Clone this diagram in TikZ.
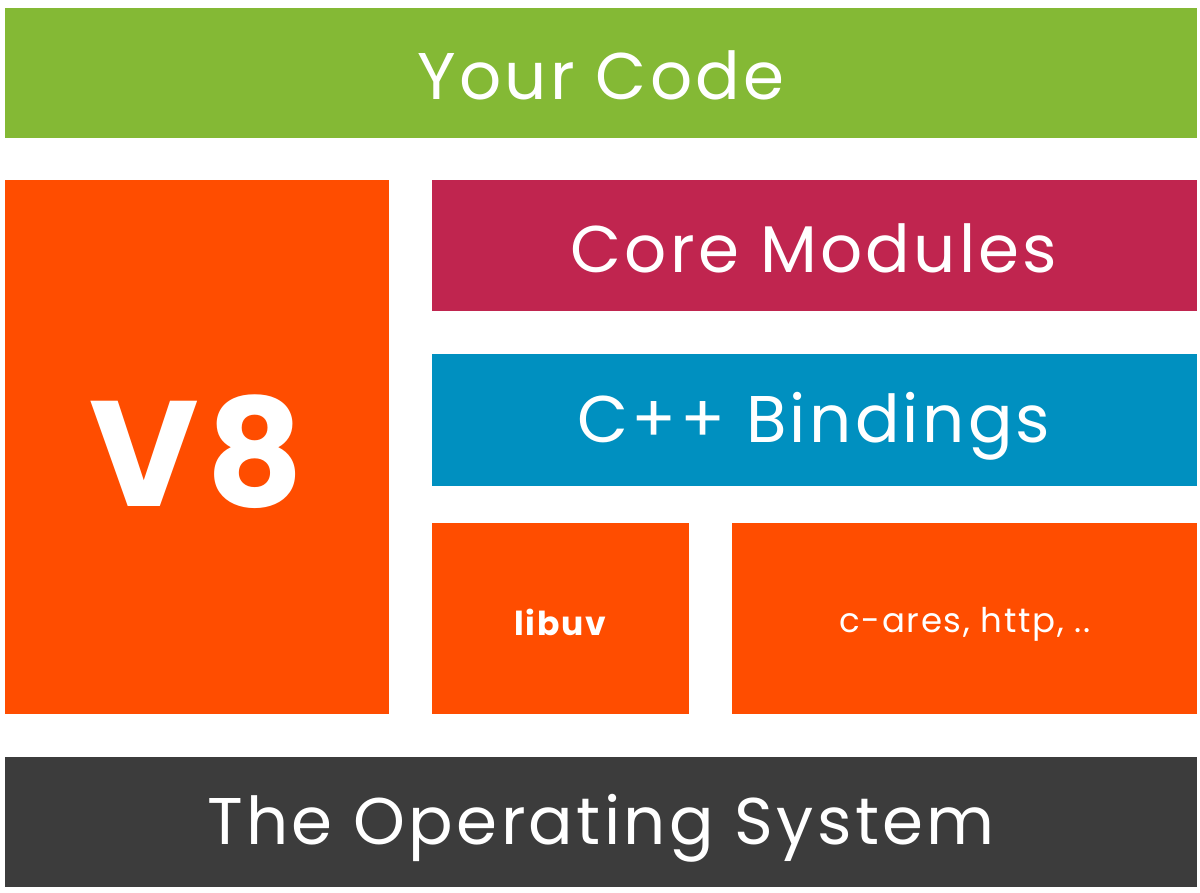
\documentclass[tikz,border=0pt]{standalone}
\usepackage{fontspec}
\setmainfont{Poppins}[LetterSpace=5]
\definecolor{cgreen}{HTML}{84B935}
\definecolor{corange}{HTML}{FF4D00}
\definecolor{cred}{HTML}{C0254F}
\definecolor{cblue}{HTML}{0090C0}
\definecolor{cdark}{HTML}{3C3C3C}
\tikzset{blk/.style={inner sep=0pt,text=white}}
\begin{document}
\begin{tikzpicture}[x=1pt,y=-1pt]
\useasboundingbox (0,0) rectangle (1200,893);
\fill[cgreen] (5,8) rectangle (1197,138);
\fill[corange] (5,180) rectangle (389,714);
\fill[cred] (432,180) rectangle (1197,311);
\fill[cblue] (432,354) rectangle (1197,486);
\fill[corange] (432,523) rectangle (689,714);
\fill[corange] (732,523) rectangle (1197,714);
\fill[cdark] (5,757) rectangle (1197,887);
\node[blk,font=\fontsize{66}{66}\selectfont] (code) at (601,75) {Your Code};
\node[blk,font=\fontsize{150}{150}\selectfont\bfseries] (v8) at (197,452) {V8};
\node[blk,font=\fontsize{66}{66}\selectfont] (core) at (814,248) {Core Modules};
\node[blk,font=\fontsize{66}{66}\selectfont] (cpp) at (814,426) {C++ Bindings};
\node[blk,font=\fontsize{33}{33}\selectfont\bfseries] (uv) at (560,622) {libuv};
\node[blk,font=\fontsize{34}{34}\selectfont] (ca) at (965,624) {c-ares, http, ..};
\node[blk,font=\fontsize{66}{66}\selectfont] (os) at (601,828) {The Operating System};
\end{tikzpicture}
\end{document}
